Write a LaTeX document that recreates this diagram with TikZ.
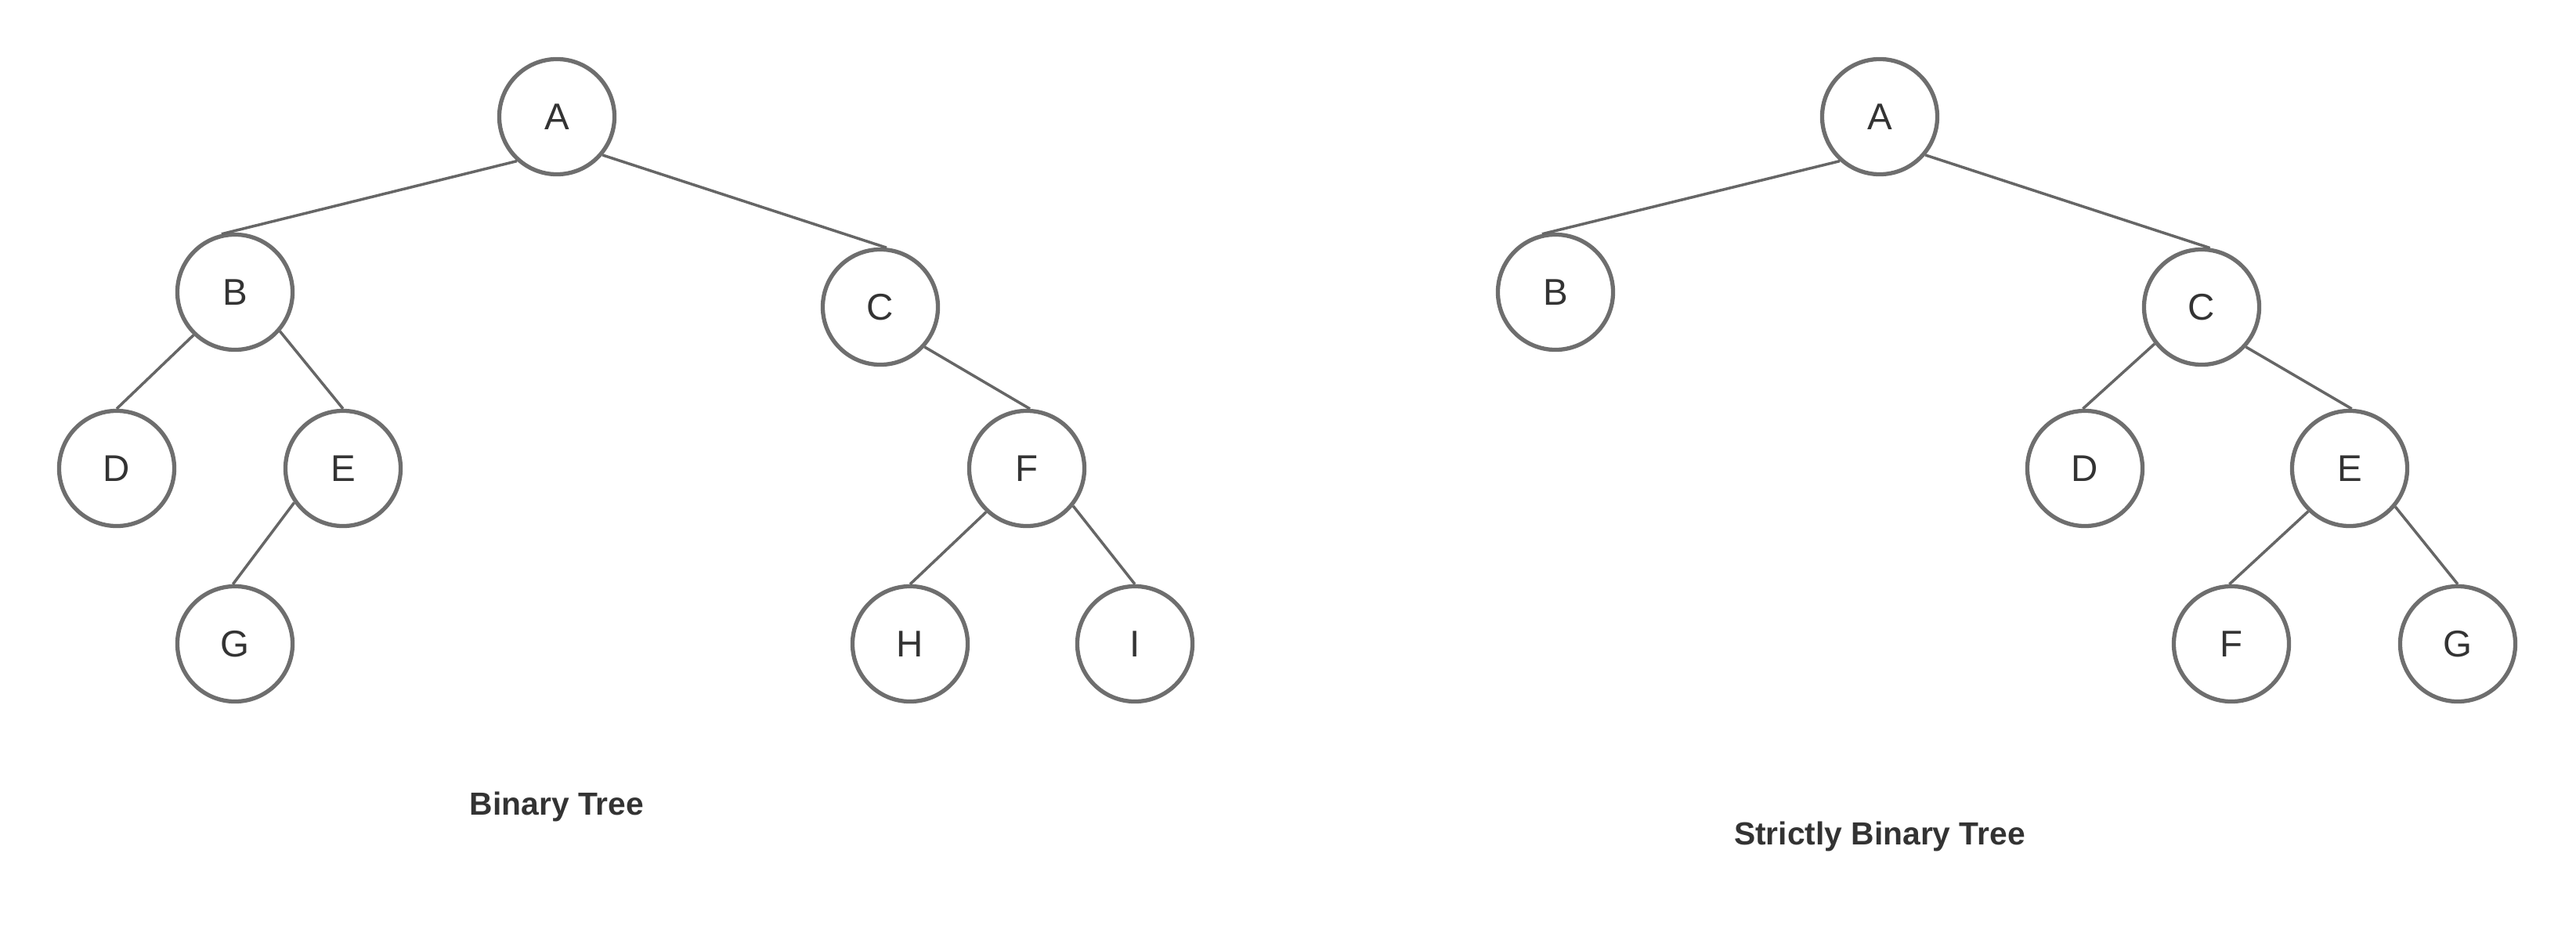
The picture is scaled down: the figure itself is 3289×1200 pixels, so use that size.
\documentclass[tikz,border=0pt]{standalone}
\usepackage{fontspec}
\setmainfont{Liberation Sans}
\usepackage{tikz}
\usepackage{xcolor}
\definecolor{ringgray}{HTML}{6E6E6E}
\definecolor{edgegray}{HTML}{666666}
\definecolor{textgray}{HTML}{333333}

\begin{document}
\begin{tikzpicture}[x=0.01cm, y=-0.01cm,
    vertex/.style={circle, draw=ringgray, line width=1.5pt, fill=white,
      minimum size=1.47cm, inner sep=0pt, text=textgray,
      font=\fontsize{13.5}{16}\selectfont},
    link/.style={draw=edgegray, line width=1pt},
    caption/.style={anchor=base, text=textgray,
      font=\fontsize{11.6}{13}\selectfont\bfseries}]
  \useasboundingbox (0,0) rectangle (3289,1200);

  % --- Left: binary tree ------------------------------------------------
  \node[vertex] (lA) at (711,149) {A};
  \node[vertex] (lB) at (300,373) {B};
  \node[vertex] (lC) at (1124,392) {C};
  \node[vertex] (lD) at (149,598) {D};
  \node[vertex] (lE) at (438,598) {E};
  \node[vertex] (lF) at (1311,598) {F};
  \node[vertex] (lG) at (300,822) {G};
  \node[vertex] (lH) at (1162,822) {H};
  \node[vertex] (lI) at (1449,822) {I};
  \draw[link] (lA.228) -- (lB.103);
  \draw[link] (lA.320) -- (lC.84);
  \draw[link] (lB.226) -- (lD.90);
  \draw[link] (lB.319) -- (lE.90);
  \draw[link] (lE.215) -- (lG.92);
  \draw[link] (lC.318) -- (lF.87);
  \draw[link] (lF.227) -- (lH.90);
  \draw[link] (lF.321) -- (lI.90);
  \node[caption] (lcap) at (711,1040) {Binary Tree};

  % --- Right: strictly binary tree --------------------------------------
  \node[vertex] (rA) at (2400,149) {A};
  \node[vertex] (rB) at (1986,373) {B};
  \node[vertex] (rC) at (2811,392) {C};
  \node[vertex] (rD) at (2662,598) {D};
  \node[vertex] (rE) at (3000,598) {E};
  \node[vertex] (rF) at (2849,822) {F};
  \node[vertex] (rG) at (3138,822) {G};
  \draw[link] (rA.228) -- (rB.103);
  \draw[link] (rA.320) -- (rC.82);
  \draw[link] (rC.218) -- (rD.92);
  \draw[link] (rC.318) -- (rE.88);
  \draw[link] (rE.226) -- (rF.92);
  \draw[link] (rE.320) -- (rG.90);
  \node[caption] (rcap) at (2400,1078) {Strictly Binary Tree};
\end{tikzpicture}
\end{document}
